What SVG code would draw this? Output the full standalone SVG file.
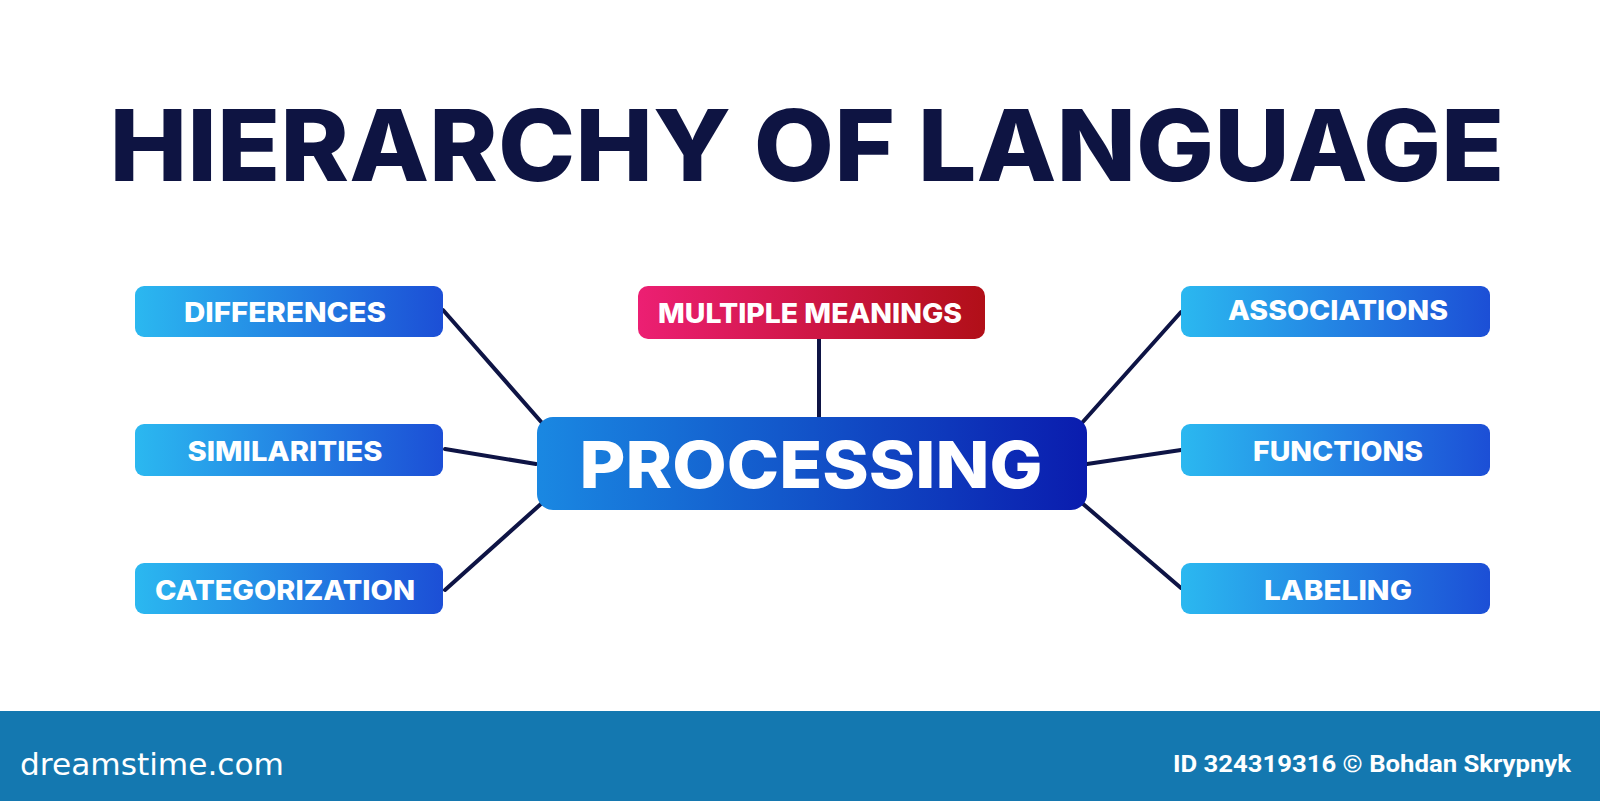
<svg xmlns="http://www.w3.org/2000/svg" width="1600" height="801" viewBox="0 0 1600 801">
<defs>
<linearGradient id="gBlue" x1="0" y1="0" x2="1" y2="0">
<stop offset="0" stop-color="#2bb8f0"/>
<stop offset="1" stop-color="#1c4fd6"/>
</linearGradient>
<linearGradient id="gRed" x1="0" y1="0" x2="1" y2="0">
<stop offset="0" stop-color="#ec1f73"/>
<stop offset="1" stop-color="#b10f18"/>
</linearGradient>
<linearGradient id="gMain" x1="0" y1="0" x2="1" y2="0">
<stop offset="0" stop-color="#1a88e2"/>
<stop offset="1" stop-color="#0a1cae"/>
</linearGradient>
</defs>
<style>
.lbl{font-family:Inter,"Liberation Sans",sans-serif;font-weight:800;font-size:27px;fill:#ffffff;text-anchor:middle}
.con{stroke:#0e1445;stroke-width:4;fill:none;stroke-linecap:round}
.box{fill:url(#gBlue)}
</style>
<rect x="0" y="0" width="1600" height="801" fill="#ffffff"/>
<text id="title" x="807" y="181" font-family="Inter,'Liberation Sans',sans-serif" font-weight="800" font-size="99" fill="#0e1442" text-anchor="middle" textLength="1395" lengthAdjust="spacingAndGlyphs">HIERARCHY OF LANGUAGE</text>

<g id="connectors">
<line class="con" x1="443" y1="310" x2="543" y2="424"/>
<line class="con" x1="445" y1="449" x2="536" y2="464"/>
<line class="con" x1="445" y1="590" x2="542" y2="503"/>
<line class="con" x1="819" y1="339" x2="819" y2="417"/>
<line class="con" x1="1181" y1="312" x2="1081" y2="424"/>
<line class="con" x1="1181" y1="450" x2="1087" y2="464"/>
<line class="con" x1="1181" y1="588" x2="1082" y2="503"/>
</g>

<g id="differences">
<rect class="box" x="135" y="286" width="308" height="51" rx="9"/>
<text class="lbl" x="285" y="322" textLength="202" lengthAdjust="spacingAndGlyphs">DIFFERENCES</text>
</g>
<g id="similarities">
<rect class="box" x="135" y="424" width="308" height="52" rx="9"/>
<text class="lbl" x="285" y="461" textLength="195" lengthAdjust="spacingAndGlyphs">SIMILARITIES</text>
</g>
<g id="categorization">
<rect class="box" x="135" y="563" width="308" height="51" rx="9"/>
<text class="lbl" x="285" y="600" textLength="260" lengthAdjust="spacingAndGlyphs">CATEGORIZATION</text>
</g>
<g id="multiple-meanings">
<rect x="638" y="286" width="347" height="53" rx="10" fill="url(#gRed)"/>
<text class="lbl" x="810" y="323" textLength="304" lengthAdjust="spacingAndGlyphs">MULTIPLE MEANINGS</text>
</g>
<g id="processing">
<rect x="537" y="417" width="550" height="93" rx="16" fill="url(#gMain)"/>
<text x="811" y="488" font-family="Inter,'Liberation Sans',sans-serif" font-weight="800" font-size="65" fill="#ffffff" text-anchor="middle" textLength="463" lengthAdjust="spacingAndGlyphs">PROCESSING</text>
</g>
<g id="associations">
<rect class="box" x="1181" y="286" width="309" height="51" rx="9"/>
<text class="lbl" x="1338" y="320" textLength="220" lengthAdjust="spacingAndGlyphs">ASSOCIATIONS</text>
</g>
<g id="functions">
<rect class="box" x="1181" y="424" width="309" height="52" rx="9"/>
<text class="lbl" x="1338" y="461" textLength="170" lengthAdjust="spacingAndGlyphs">FUNCTIONS</text>
</g>
<g id="labeling">
<rect class="box" x="1181" y="563" width="309" height="51" rx="9"/>
<text class="lbl" x="1338" y="600" textLength="148" lengthAdjust="spacingAndGlyphs">LABELING</text>
</g>

<g id="footer">
<rect x="0" y="711" width="1600" height="90" fill="#1478b0"/>
<text x="20" y="775" font-family="'DejaVu Sans',sans-serif" font-size="30" fill="#ffffff" textLength="264" lengthAdjust="spacingAndGlyphs">dreamstime.com</text>
<text x="1571" y="772" font-family="Roboto,'Liberation Sans',sans-serif" font-weight="700" font-size="24" fill="#ffffff" text-anchor="end" textLength="398" lengthAdjust="spacingAndGlyphs">ID 324319316 © Bohdan Skrypnyk</text>
</g>
</svg>
